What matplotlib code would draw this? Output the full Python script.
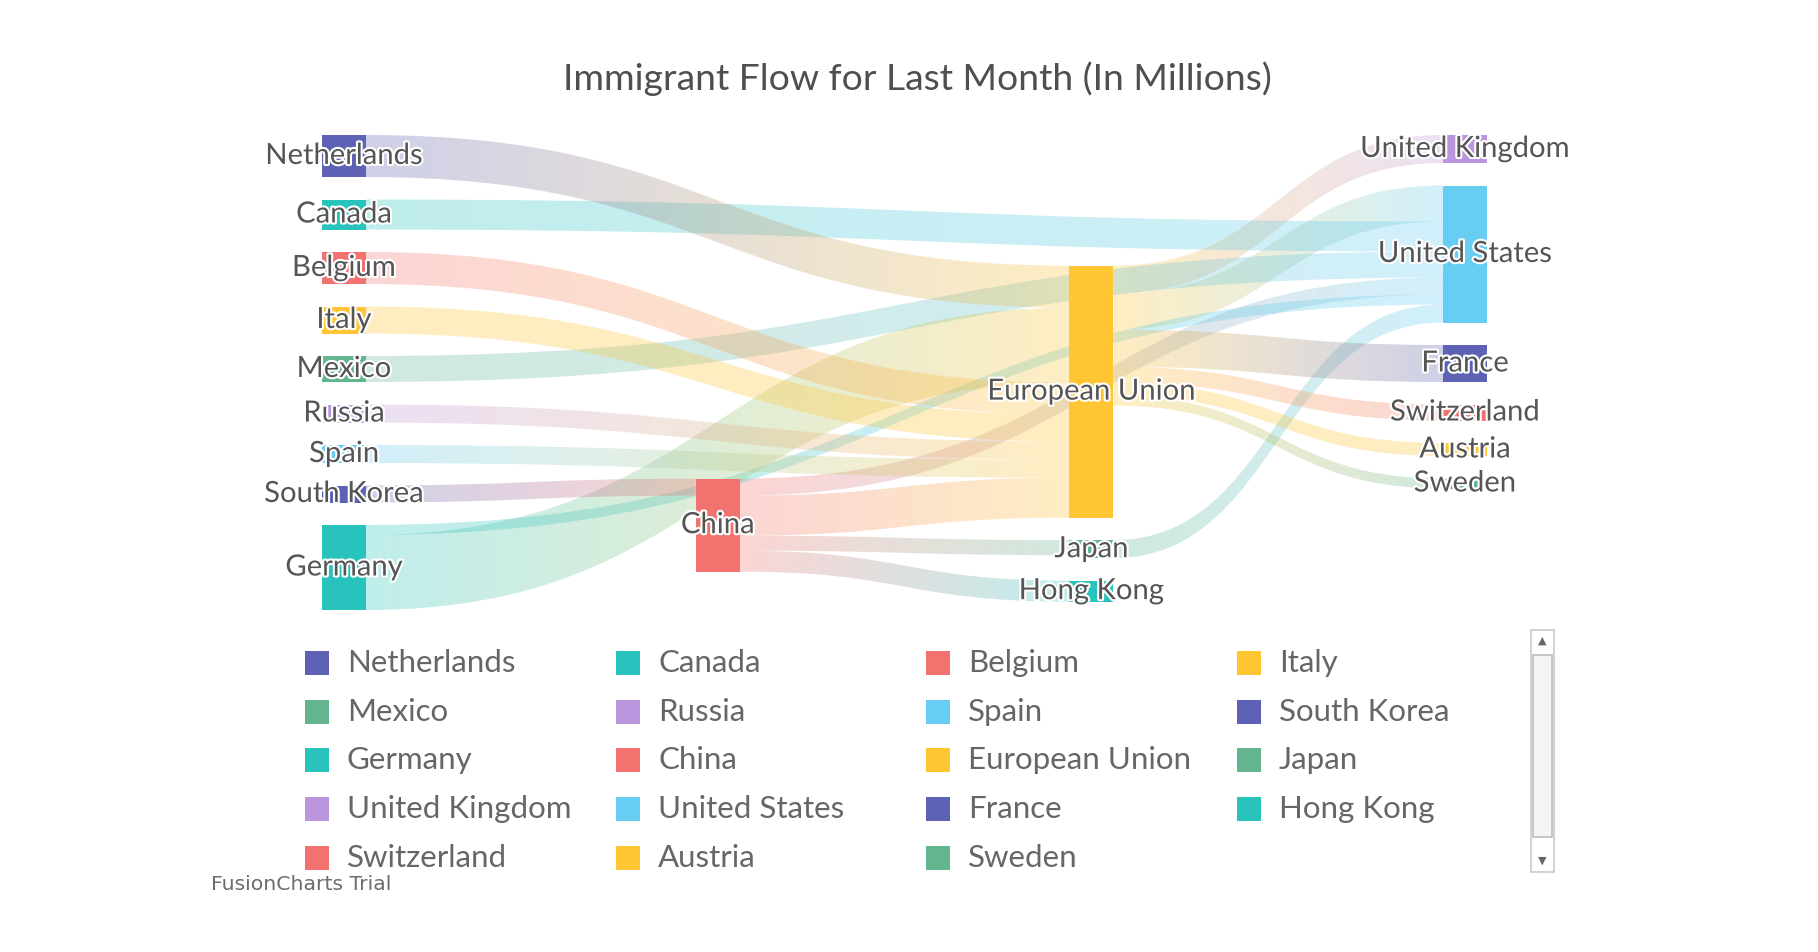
import numpy as np
import matplotlib
matplotlib.use("Agg")
import matplotlib.pyplot as plt
from matplotlib.path import Path
from matplotlib.patches import PathPatch, Rectangle
import matplotlib.patheffects as pe
from matplotlib.colors import to_rgb

# ---------------- data ----------------
title_text = "Immigrant Flow for Last Month (In Millions)"

node_names = ["Netherlands", "Canada", "Belgium", "Italy", "Mexico", "Russia",
              "Spain", "South Korea", "Germany", "China", "European Union", "Japan",
              "United Kingdom", "United States", "France", "Hong Kong",
              "Switzerland", "Austria", "Sweden"]

palette = ["#5D62B5", "#29C3BE", "#F2726F", "#FFC533", "#62B58F", "#BC95DF", "#67CDF2"]

link_from = ["European Union", "European Union", "Canada", "Mexico", "China", "Germany", "Japan",
             "Netherlands", "Germany", "Belgium", "Italy", "Russia", "Spain", "China",
             "South Korea", "China", "China",
             "European Union", "European Union", "European Union", "European Union"]
link_to = ["United Kingdom", "United States", "United States", "United States", "United States",
           "United States", "United States",
           "European Union", "European Union", "European Union", "European Union",
           "European Union", "European Union", "European Union",
           "China", "Japan", "Hong Kong",
           "France", "Switzerland", "Austria", "Sweden"]
link_value = [2.8, 3.6, 3.0, 2.6, 1.7, 1.0, 1.8,
              4.2, 7.5, 3.2, 2.7, 1.8, 1.8, 4.0,
              1.7, 1.5, 2.1,
              3.7, 1.6, 1.3, 1.0]

# ---------------- layout settings ----------------
W, H = 1818, 952
EXT_X0, EXT_X1, EXT_Y0, EXT_Y1 = 322, 1487, 135, 610
NODE_W = 44
NODE_PAD = 22.5
LINK_ALPHA = 0.3
LABEL_COLOR = "#555555"
ITERATIONS = 6


def sankey_layout(names, src, tgt, val, x0, x1, y0, y1, dx, py, iterations=6):
    """Port of d3-sankey (left align, nodeSort(null), linkSort(null))."""
    n = len(names)
    idx = {nm: i for i, nm in enumerate(names)}
    links = [dict(s=idx[a], t=idx[b], v=v) for a, b, v in zip(src, tgt, val)]
    srcL = [[] for _ in range(n)]
    tgtL = [[] for _ in range(n)]
    for L in links:
        srcL[L["s"]].append(L)
        tgtL[L["t"]].append(L)
    value = [max(sum(l["v"] for l in srcL[i]), sum(l["v"] for l in tgtL[i])) for i in range(n)]
    depth = [0] * n
    current = list(range(n))
    x = 0
    while current:
        nxt = []
        for i in current:
            depth[i] = x
            for l in srcL[i]:
                if l["t"] not in nxt:
                    nxt.append(l["t"])
        x += 1
        current = nxt
    ncol = max(depth) + 1
    kx = (x1 - x0 - dx) / (ncol - 1)
    cols = [[i for i in range(n) if depth[i] == c] for c in range(ncol)]
    X0 = [x0 + depth[i] * kx for i in range(n)]
    ky = min((y1 - y0 - (len(c) - 1) * py) / sum(value[i] for i in c) for c in cols)
    for L in links:
        L["w"] = L["v"] * ky
    Y0 = [0.0] * n
    Y1 = [0.0] * n
    for c in cols:
        y = y0
        for i in c:
            Y0[i] = y
            Y1[i] = y + value[i] * ky
            y = Y1[i] + py
        y = (y1 - y + py) / (len(c) + 1)
        for k, i in enumerate(c):
            Y0[i] += y * (k + 1)
            Y1[i] += y * (k + 1)

    def target_top(s, t):
        y = Y0[s] - (len(srcL[s]) - 1) * py / 2
        for l in srcL[s]:
            if l["t"] == t:
                break
            y += l["w"] + py
        for l in tgtL[t]:
            if l["s"] == s:
                break
            y -= l["w"]
        return y

    def source_top(s, t):
        y = Y0[t] - (len(tgtL[t]) - 1) * py / 2
        for l in tgtL[t]:
            if l["s"] == s:
                break
            y += l["w"] + py
        for l in srcL[s]:
            if l["t"] == t:
                break
            y -= l["w"]
        return y

    def bottom_to_top(c, y, i, a):
        while i >= 0:
            nd = c[i]
            d = (Y1[nd] - y) * a
            if d > 1e-6:
                Y0[nd] -= d
                Y1[nd] -= d
            y = Y0[nd] - py
            i -= 1

    def top_to_bottom(c, y, i, a):
        while i < len(c):
            nd = c[i]
            d = (y - Y0[nd]) * a
            if d > 1e-6:
                Y0[nd] += d
                Y1[nd] += d
            y = Y1[nd] + py
            i += 1

    def resolve(c, a):
        i = len(c) >> 1
        sub = c[i]
        bottom_to_top(c, Y0[sub] - py, i - 1, a)
        top_to_bottom(c, Y1[sub] + py, i + 1, a)
        bottom_to_top(c, y1, len(c) - 1, a)
        top_to_bottom(c, y0, 0, a)

    for it in range(iterations):
        alpha = 0.99 ** it
        beta = max(1 - alpha, (it + 1) / iterations)
        for ci in range(ncol - 2, -1, -1):
            c = cols[ci]
            for s in c:
                yy = ww = 0.0
                for l in srcL[s]:
                    v = l["v"] * (depth[l["t"]] - depth[s])
                    yy += source_top(s, l["t"]) * v
                    ww += v
                if ww > 0:
                    d = (yy / ww - Y0[s]) * alpha
                    Y0[s] += d
                    Y1[s] += d
            resolve(c, beta)
        for ci in range(1, ncol):
            c = cols[ci]
            for t in c:
                yy = ww = 0.0
                for l in tgtL[t]:
                    v = l["v"] * (depth[t] - depth[l["s"]])
                    yy += target_top(l["s"], t) * v
                    ww += v
                if ww > 0:
                    d = (yy / ww - Y0[t]) * alpha
                    Y0[t] += d
                    Y1[t] += d
            resolve(c, beta)

    for i in range(n):
        a = Y0[i]
        for l in srcL[i]:
            l["y0"] = a + l["w"] / 2
            a += l["w"]
        b = Y0[i]
        for l in tgtL[i]:
            l["y1"] = b + l["w"] / 2
            b += l["w"]
    return X0, Y0, Y1, links


X0, Y0, Y1, links = sankey_layout(node_names, link_from, link_to, link_value,
                                  EXT_X0, EXT_X1, EXT_Y0, EXT_Y1, NODE_W, NODE_PAD,
                                  iterations=ITERATIONS)
node_colors = [palette[i % len(palette)] for i in range(len(node_names))]

# ---------------- figure ----------------
fig = plt.figure(figsize=(W / 100, H / 100), dpi=100)
ax = fig.add_axes([0, 0, 1, 1])
ax.axis("off")
renderer = fig.canvas.get_renderer()


def fit_size(text, family, target_px, base=20.0):
    t = fig.text(0, 0, text, fontsize=base, family=family)
    w = t.get_window_extent(renderer=renderer).width
    t.remove()
    return base * target_px / w


LABEL_FONT = "Lato"
label_size = fit_size("Netherlands", LABEL_FONT, 158)
legend_size = fit_size("Netherlands", LABEL_FONT, 169)
title_size = fit_size(title_text, LABEL_FONT, 710)
mark_size = fit_size("FusionCharts Trial", "DejaVu Sans", 180)

# links
grad = np.linspace(0, 1, 256)[None, :, None]
for L in links:
    s, t, w = L["s"], L["t"], L["w"]
    xa, xb = X0[s] + NODE_W, X0[t]
    ya, yb = L["y0"], L["y1"]
    xm = (xa + xb) / 2
    verts = [(xa, ya - w / 2), (xm, ya - w / 2), (xm, yb - w / 2), (xb, yb - w / 2),
             (xb, yb + w / 2), (xm, yb + w / 2), (xm, ya + w / 2), (xa, ya + w / 2),
             (xa, ya - w / 2)]
    codes = [Path.MOVETO, Path.CURVE4, Path.CURVE4, Path.CURVE4, Path.LINETO,
             Path.CURVE4, Path.CURVE4, Path.CURVE4, Path.CLOSEPOLY]
    patch = PathPatch(Path(verts, codes), facecolor="none", edgecolor="none",
                      transform=ax.transData)
    ax.add_patch(patch)
    c0 = np.array(to_rgb(node_colors[s]))
    c1 = np.array(to_rgb(node_colors[t]))
    rgb = c0 * (1 - grad) + c1 * grad
    rgba = np.concatenate([rgb, np.full((1, 256, 1), LINK_ALPHA)], axis=2)
    ylo, yhi = min(ya, yb) - w / 2 - 1, max(ya, yb) + w / 2 + 1
    im = ax.imshow(rgba, extent=(xa, xb, ylo, yhi), origin="lower", aspect="auto",
                   interpolation="bilinear", zorder=1)
    im.set_clip_path(patch)

# nodes
for i, nm in enumerate(node_names):
    ax.add_patch(Rectangle((X0[i], Y0[i]), NODE_W, Y1[i] - Y0[i],
                           facecolor=node_colors[i], edgecolor="none", zorder=3))
halo = [pe.withStroke(linewidth=3, foreground="white")]
for i, nm in enumerate(node_names):
    ax.text(X0[i] + NODE_W / 2, (Y0[i] + Y1[i]) / 2, nm, ha="center", va="center",
            fontsize=label_size, family=LABEL_FONT, color=LABEL_COLOR,
            path_effects=halo, zorder=5)

# title
ax.text(917, 79, title_text, ha="center", va="center", fontsize=title_size,
        family=LABEL_FONT, color="#4f4f4f", zorder=5)

# legend (4 columns, row-major)
leg_x = [305, 616, 926, 1237]
leg_y = [663, 712, 760, 809, 858]
for k, nm in enumerate(node_names):
    r, c = divmod(k, 4)
    ax.add_patch(Rectangle((leg_x[c], leg_y[r] - 12), 24, 24, facecolor=node_colors[k],
                           edgecolor="none", zorder=3))
    ax.text(leg_x[c] + 42, leg_y[r], nm, ha="left", va="center", fontsize=legend_size,
            family=LABEL_FONT, color="#666666", zorder=5)

# legend scroll bar
ax.add_patch(Rectangle((1531, 630), 23, 242, facecolor="white", edgecolor="#c9c9c9",
                       linewidth=1.2, zorder=3))
ax.add_patch(Rectangle((1533, 655), 19, 182, facecolor="#f4f4f4", edgecolor="#bdbdbd",
                       linewidth=1.2, zorder=4))
ax.text(1542.5, 641, "\u25b2", ha="center", va="center", fontsize=8, color="#666666",
        family="DejaVu Sans", zorder=5)
ax.text(1542.5, 861, "\u25bc", ha="center", va="center", fontsize=8, color="#666666",
        family="DejaVu Sans", zorder=5)

# watermark
ax.text(211, 885, "FusionCharts Trial", ha="left", va="center", fontsize=mark_size,
        family="DejaVu Sans", color="#6d6d6d", zorder=5)

ax.set_xlim(0, W)
ax.set_ylim(H, 0)
fig.savefig("out.png", dpi=100, facecolor="white")
